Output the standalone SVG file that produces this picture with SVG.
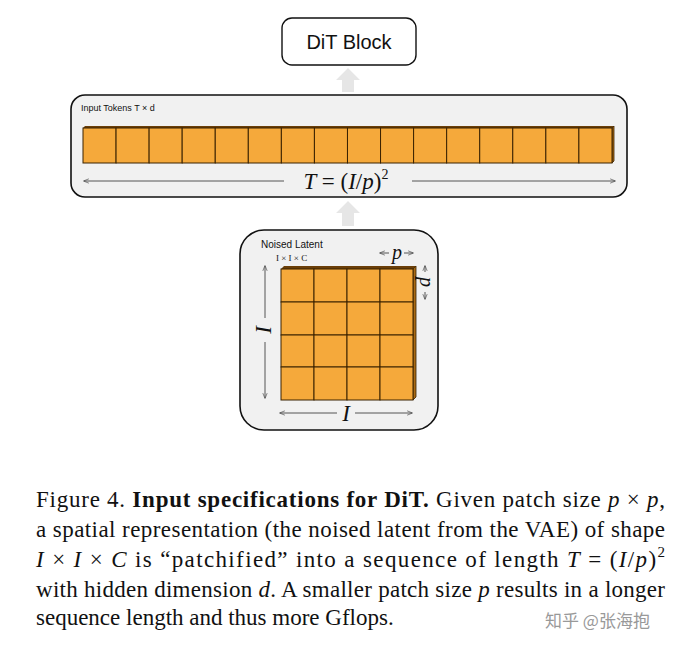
<svg xmlns="http://www.w3.org/2000/svg" width="694" height="649" viewBox="0 0 694 649">
<style>
.box{fill:#f1f1f1;stroke:#111;stroke-width:1.6}
.cell{fill:#f5a93b;stroke:#3a2200;stroke-width:1}
.side{fill:#a86a14;stroke:#3a2200;stroke-width:0.8}
.ln{stroke:#444;stroke-width:0.9;fill:none}
.sans{font-family:"Liberation Sans",Arial,sans-serif;fill:#111}
.ser{font-family:"Liberation Serif","Times New Roman",serif;fill:#111}
.math{font-family:"Liberation Serif","Times New Roman",serif;font-style:italic;fill:#111}
</style>
<defs>
<marker id="ah" viewBox="0 0 10 10" refX="9" refY="5" markerWidth="6" markerHeight="6" orient="auto-start-reverse"><path d="M0,1 L10,5 L0,9" fill="none" stroke="#444" stroke-width="1.2"/></marker>
</defs>
<rect width="694" height="649" fill="#fff"/>
<g id="dit">
<rect x="282" y="18" width="134" height="47" rx="10" fill="#fff" stroke="#111" stroke-width="1.4"/>
<text x="349" y="49" text-anchor="middle" class="sans" font-size="20">DiT Block</text>
</g>
<g id="connectors" fill="#e6e6e6">
<path d="M342,92 V80 H336 L348,68 L360,80 H354 V92 Z"/>
<path d="M342,226 V213 H336 L348,201 L360,213 H354 V226 Z"/>
</g>
<g id="tokens">
<rect class="box" x="71" y="95" width="556" height="102" rx="14"/>
<text x="81" y="111" class="sans" font-size="9">Input Tokens T × d</text>
<path d="M83,128 L85,126 L614,126 L612,128 Z" fill="#6b3f08"/>
<path d="M612,128 L614,126 L614,161 L612,163 Z" class="side"/>
<g class="cell">
<rect x="83" y="128" width="33.06" height="35"/><rect x="116.06" y="128" width="33.06" height="35"/><rect x="149.12" y="128" width="33.06" height="35"/><rect x="182.18" y="128" width="33.06" height="35"/><rect x="215.24" y="128" width="33.06" height="35"/><rect x="248.3" y="128" width="33.06" height="35"/><rect x="281.36" y="128" width="33.06" height="35"/><rect x="314.42" y="128" width="33.06" height="35"/><rect x="347.48" y="128" width="33.06" height="35"/><rect x="380.54" y="128" width="33.06" height="35"/><rect x="413.6" y="128" width="33.06" height="35"/><rect x="446.66" y="128" width="33.06" height="35"/><rect x="479.72" y="128" width="33.06" height="35"/><rect x="512.78" y="128" width="33.06" height="35"/><rect x="545.84" y="128" width="33.06" height="35"/><rect x="578.9" y="128" width="33.1" height="35"/>
</g>
<line class="ln" x1="84" y1="181" x2="284" y2="181" marker-start="url(#ah)"/>
<line class="ln" x1="412" y1="181" x2="615" y2="181" marker-end="url(#ah)"/>
<text x="346" y="189" text-anchor="middle" class="math" font-size="23">T <tspan font-style="normal">= (</tspan>I<tspan font-style="normal">/</tspan>p<tspan font-style="normal">)</tspan><tspan font-style="normal" font-size="14" dy="-10">2</tspan></text>
</g>
<g id="latent">
<rect class="box" x="240" y="230" width="198" height="200" rx="24"/>
<text x="261" y="248" class="sans" font-size="10">Noised Latent</text>
<text x="276" y="261" class="ser" font-size="9">I × I × C</text>
<path d="M281,269 L284,266 L416,266 L413,269 Z" fill="#6b3f08"/>
<path d="M413,269 L416,266 L416,397 L413,400 Z" class="side"/>
<g class="cell">
<rect x="281" y="269" width="33" height="33"/><rect x="314" y="269" width="33" height="33"/><rect x="347" y="269" width="33" height="33"/><rect x="380" y="269" width="33" height="33"/>
<rect x="281" y="302" width="33" height="33"/><rect x="314" y="302" width="33" height="33"/><rect x="347" y="302" width="33" height="33"/><rect x="380" y="302" width="33" height="33"/>
<rect x="281" y="335" width="33" height="32"/><rect x="314" y="335" width="33" height="32"/><rect x="347" y="335" width="33" height="32"/><rect x="380" y="335" width="33" height="32"/>
<rect x="281" y="367" width="33" height="33"/><rect x="314" y="367" width="33" height="33"/><rect x="347" y="367" width="33" height="33"/><rect x="380" y="367" width="33" height="33"/>
</g>
<line class="ln" x1="265" y1="266" x2="265" y2="318" marker-start="url(#ah)"/>
<line class="ln" x1="265" y1="342" x2="265" y2="398" marker-end="url(#ah)"/>
<text transform="translate(271,330) rotate(-90)" text-anchor="middle" class="math" font-size="23">I</text>
<line class="ln" x1="280" y1="413" x2="337" y2="413" marker-start="url(#ah)"/>
<line class="ln" x1="355" y1="413" x2="412" y2="413" marker-end="url(#ah)"/>
<text x="346" y="421" text-anchor="middle" class="math" font-size="23">I</text>
<line class="ln" x1="380" y1="253" x2="389" y2="253" marker-start="url(#ah)"/>
<line class="ln" x1="404" y1="253" x2="413" y2="253" marker-end="url(#ah)"/>
<text x="397" y="259" text-anchor="middle" class="math" font-size="20">p</text>
<line class="ln" x1="425" y1="266" x2="425" y2="272" marker-start="url(#ah)"/>
<line class="ln" x1="425" y1="292" x2="425" y2="299" marker-end="url(#ah)"/>
<text transform="translate(420,282) rotate(90)" text-anchor="middle" class="math" font-size="20">p</text>
</g>
<g id="caption" class="ser" font-size="23">
<text x="36" y="507" textLength="629" lengthAdjust="spacing">Figure 4.  <tspan font-weight="bold">Input specifications for DiT.</tspan> Given patch size <tspan font-style="italic">p</tspan> × <tspan font-style="italic">p</tspan>,</text>
<text x="36" y="537" textLength="629" lengthAdjust="spacing">a spatial representation (the noised latent from the VAE) of shape</text>
<text x="36" y="567" textLength="629" lengthAdjust="spacing"><tspan font-style="italic">I</tspan> × <tspan font-style="italic">I</tspan> × <tspan font-style="italic">C</tspan> is “patchified” into a sequence of length <tspan font-style="italic">T</tspan> = (<tspan font-style="italic">I</tspan>/<tspan font-style="italic">p</tspan>)<tspan font-size="15" dy="-10">2</tspan></text>
<text x="36" y="597" textLength="629" lengthAdjust="spacing">with hidden dimension <tspan font-style="italic">d</tspan>. A smaller patch size <tspan font-style="italic">p</tspan> results in a longer</text>
<text x="36" y="625">sequence length and thus more Gflops.</text>
</g>
<text x="545" y="627" font-family="'Noto Sans CJK SC',sans-serif" font-size="17" fill="#999">知乎 @张海抱</text>
</svg>
